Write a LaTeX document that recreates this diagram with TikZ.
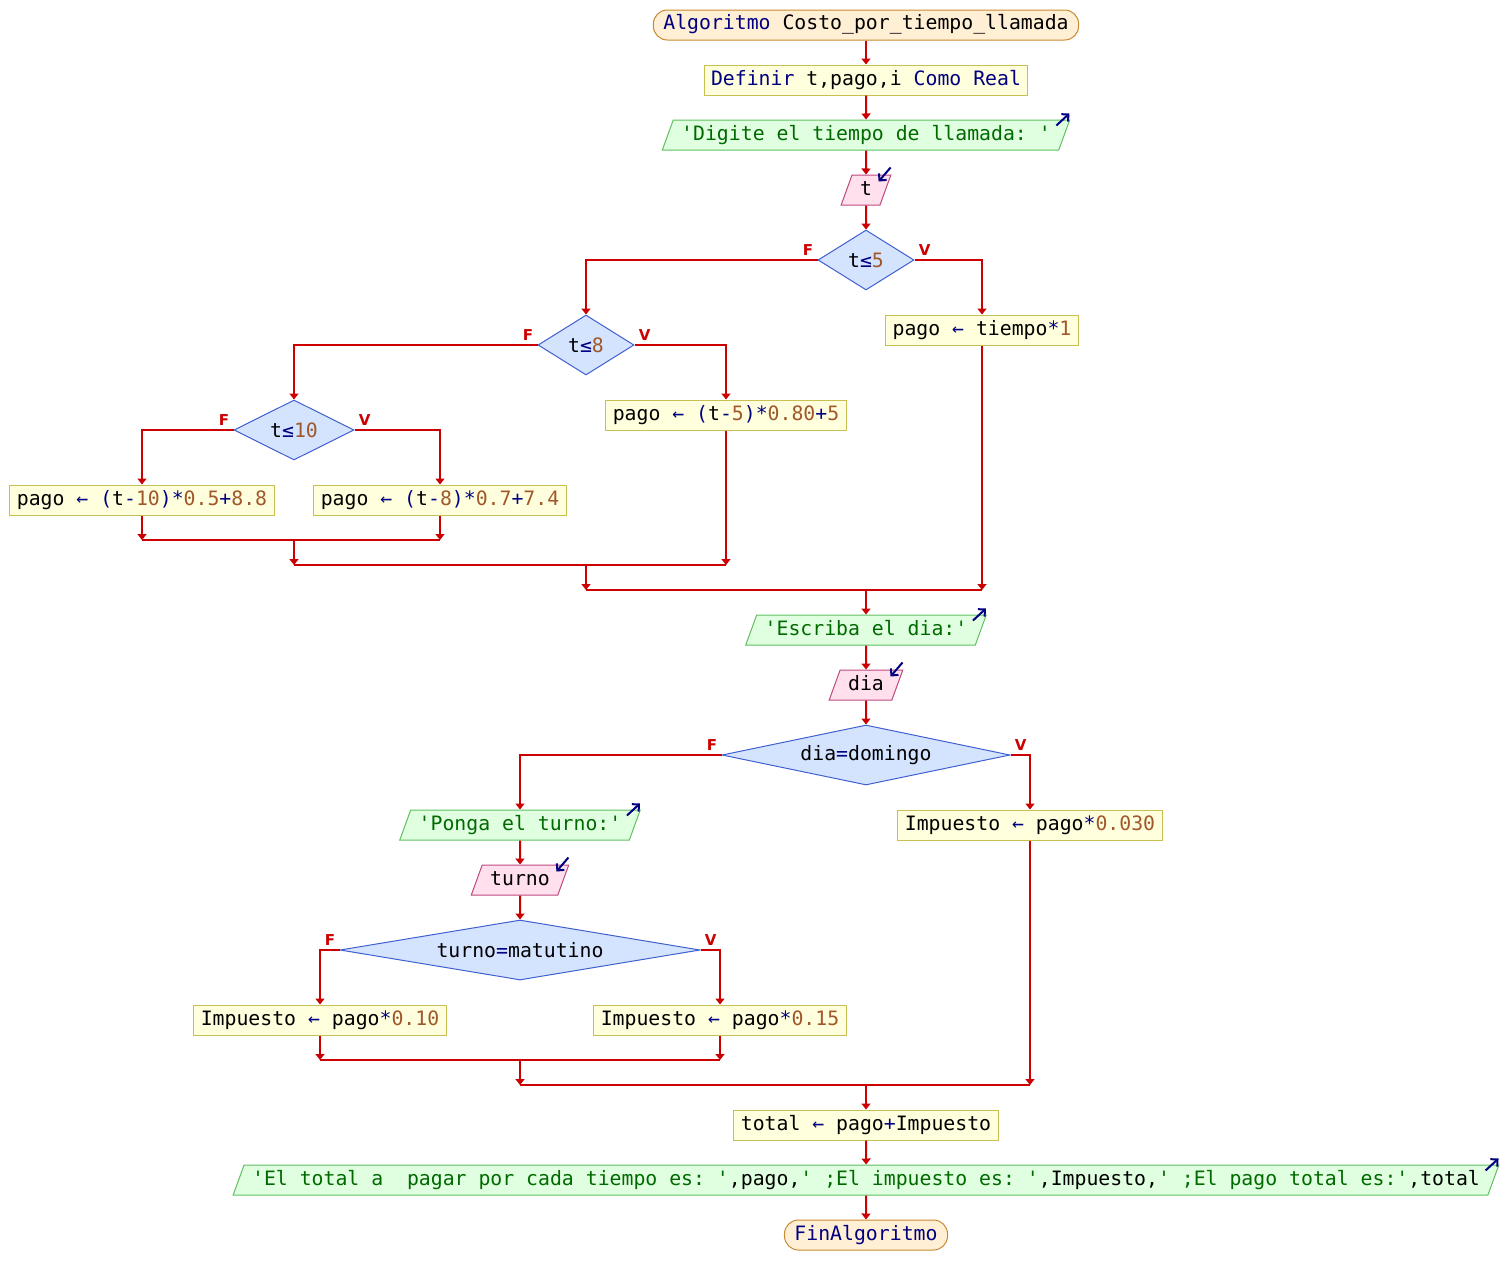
\documentclass[tikz,border=0pt]{standalone}
\usepackage{fontspec}
\setmonofont{DejaVu Sans Mono}
\setsansfont{DejaVu Sans}
\usetikzlibrary{shapes.geometric,arrows.meta}

\definecolor{kwcol}{HTML}{000080}
\definecolor{strcol}{HTML}{006A00}
\definecolor{numcol}{HTML}{A0582A}
\definecolor{flowc}{HTML}{CC0000}
\definecolor{procf}{HTML}{FFFFDD}
\definecolor{procb}{HTML}{C8C050}
\definecolor{termf}{HTML}{FFEFD5}
\definecolor{termb}{HTML}{C88A30}
\definecolor{outf}{HTML}{E0FFE0}
\definecolor{outb}{HTML}{60C060}
\definecolor{inf}{HTML}{FFE0EC}
\definecolor{inb}{HTML}{C04880}
\definecolor{decf}{HTML}{D4E4FF}
\definecolor{decb}{HTML}{4060D0}

\newcommand{\pkw}[1]{\textcolor{kwcol}{#1}}
\newcommand{\pstr}[1]{\textcolor{strcol}{#1}}
\newcommand{\pnum}[1]{\textcolor{numcol}{#1}}
\newcommand{\pop}[1]{\textcolor{kwcol}{#1}}

\begin{document}
\begin{tikzpicture}[x=0.5pt,y=-0.5pt,font=\fontsize{9.9}{12}\selectfont\ttfamily\frenchspacing]
    \tikzstyle{pbase}=[text height=7.5pt, text depth=2.5pt, inner ysep=2.5pt, line width=0.5pt]
    \tikzstyle{proc}=[pbase, rectangle, draw=procb, fill=procf, inner xsep=3.5pt]
    \tikzstyle{term}=[pbase, rectangle, rounded corners=7pt, draw=termb, fill=termf, inner xsep=5pt]
    \tikzstyle{outp}=[pbase, trapezium, trapezium left angle=70, trapezium right angle=110, draw=outb, fill=outf, inner xsep=4pt]
    \tikzstyle{inp}=[outp, draw=inb, fill=inf]
    \tikzstyle{dec}=[diamond, draw=decb, fill=decf, inner sep=0pt, line width=0.5pt, minimum height=30pt]
    \tikzstyle{flow}=[draw=flowc, line width=1pt, -{Triangle[length=3pt,width=4.5pt]}]
    \tikzstyle{joinline}=[draw=flowc, line width=1pt]
    \tikzstyle{lbl}=[font=\fontsize{7.5}{8}\selectfont\sffamily\bfseries, text=flowc, inner sep=2pt]
    \tikzstyle{icon}=[draw=kwcol, line width=1pt, -{Straight Barb[length=2.5pt,width=5pt]}]
    \useasboundingbox (0,0) rectangle (1506,1285);

    % first part: reading t and computing pago
    \node[term] (ini) at (866,25) {\pkw{Algoritmo} Costo\_por\_tiempo\_llamada};
    \node[proc] (def) at (866,80) {\pkw{Definir} t,pago,i \pkw{Como Real}};
    \node[outp] (o1) at (866,135) {\pstr{'Digite el tiempo de llamada: '}};
    \node[inp] (i1) at (866,190) {t};
    \node[dec, aspect=1.6, minimum width=48pt] (c5) at (866,260) {t\pop{≤}\pnum{5}};
    \node[proc] (a5) at (982,330) {pago \pop{←} tiempo\pop{*}\pnum{1}};
    \node[dec, aspect=1.6, minimum width=48pt] (c8) at (586,345) {t\pop{≤}\pnum{8}};
    \node[proc] (a8) at (726,415) {pago \pop{←} \pop{(}t\pop{-}\pnum{5}\pop{)*}\pnum{0.80}\pop{+}\pnum{5}};
    \node[dec, aspect=2, minimum width=60pt] (c10) at (294,430) {t\pop{≤}\pnum{10}};
    \node[proc] (a10f) at (142,500) {pago \pop{←} \pop{(}t\pop{-}\pnum{10}\pop{)*}\pnum{0.5}\pop{+}\pnum{8.8}};
    \node[proc] (a10v) at (440,500) {pago \pop{←} \pop{(}t\pop{-}\pnum{8}\pop{)*}\pnum{0.7}\pop{+}\pnum{7.4}};
    \coordinate (j1) at (294,540);
    \coordinate (j2) at (586,565);
    \coordinate (j3) at (866,590);

    % second part: reading dia and turno
    \node[outp] (o2) at (866,630) {\pstr{'Escriba el dia:'}};
    \node[inp] (i2) at (866,685) {dia};
    \node[dec, aspect=4.8, minimum width=144pt] (cd) at (866,755) {dia\pop{=}domingo};
    \node[outp] (o3) at (520,825) {\pstr{'Ponga el turno:'}};
    \node[proc] (imd) at (1030,825) {Impuesto \pop{←} pago\pop{*}\pnum{0.030}};
    \node[inp] (i3) at (520,880) {turno};
    \node[dec, aspect=6, minimum width=180pt] (ct) at (520,950) {turno\pop{=}matutino};
    \node[proc] (im1) at (320,1020) {Impuesto \pop{←} pago\pop{*}\pnum{0.10}};
    \node[proc] (im2) at (720,1020) {Impuesto \pop{←} pago\pop{*}\pnum{0.15}};
    \coordinate (j4) at (520,1060);
    \coordinate (j5) at (866,1085);
    \node[proc] (tot) at (866,1125) {total \pop{←} pago\pop{+}Impuesto};
    \node[outp] (o4) at (866,1180) {\pstr{'El total a\ \ pagar por cada tiempo es: '},pago,\pstr{' ;El impuesto es: '},Impuesto,\pstr{' ;El pago total es:'},total};
    \node[term] (fin) at (866,1235) {\pkw{FinAlgoritmo}};

    % F / V labels
    \foreach \d in {c5,c8,c10,cd,ct} {
        \node[lbl, anchor=south east] at (\d.west) {F};
        \node[lbl, anchor=south west] at (\d.east) {V};
    }

    % output / input marks
    \foreach \o in {o1,o2,o3,o4}
        \draw[icon] ([shift={(-14,6)}]\o.top right corner) -- ([shift={(-1,-6)}]\o.top right corner);
    \foreach \i in {i1,i2,i3}
        \draw[icon] ([shift={(-1,-7)}]\i.top right corner) -- ([shift={(-13,7)}]\i.top right corner);

    % connectors
    \draw[flow] (ini) -- (def);
    \draw[flow] (def) -- (o1);
    \draw[flow] (o1) -- (i1);
    \draw[flow] (i1) -- (c5);
    \draw[flow] (c5.west) -| (c8);
    \draw[flow] (c5.east) -| (a5);
    \draw[flow] (c8.west) -| (c10);
    \draw[flow] (c8.east) -| (a8);
    \draw[flow] (c10.west) -| (a10f);
    \draw[flow] (c10.east) -| (a10v);
    \draw[flow] (a10f) -- (a10f |- j1);
    \draw[flow] (a10v) -- (a10v |- j1);
    \draw[joinline] (a10f |- j1) -- (a10v |- j1);
    \draw[flow] (j1) -- (j1 |- j2);
    \draw[flow] (a8) -- (a8 |- j2);
    \draw[joinline] (j1 |- j2) -- (a8 |- j2);
    \draw[flow] (j2) -- (j2 |- j3);
    \draw[flow] (a5) -- (a5 |- j3);
    \draw[joinline] (j2 |- j3) -- (a5 |- j3);
    \draw[flow] (j3) -- (o2);
    \draw[flow] (o2) -- (i2);
    \draw[flow] (i2) -- (cd);
    \draw[flow] (cd.west) -| (o3);
    \draw[flow] (cd.east) -| (imd);
    \draw[flow] (o3) -- (i3);
    \draw[flow] (i3) -- (ct);
    \draw[flow] (ct.west) -| (im1);
    \draw[flow] (ct.east) -| (im2);
    \draw[flow] (im1) -- (im1 |- j4);
    \draw[flow] (im2) -- (im2 |- j4);
    \draw[joinline] (im1 |- j4) -- (im2 |- j4);
    \draw[flow] (j4) -- (j4 |- j5);
    \draw[flow] (imd) -- (imd |- j5);
    \draw[joinline] (j4 |- j5) -- (imd |- j5);
    \draw[flow] (j5) -- (tot);
    \draw[flow] (tot) -- (o4);
    \draw[flow] (o4) -- (fin);
\end{tikzpicture}
\end{document}
